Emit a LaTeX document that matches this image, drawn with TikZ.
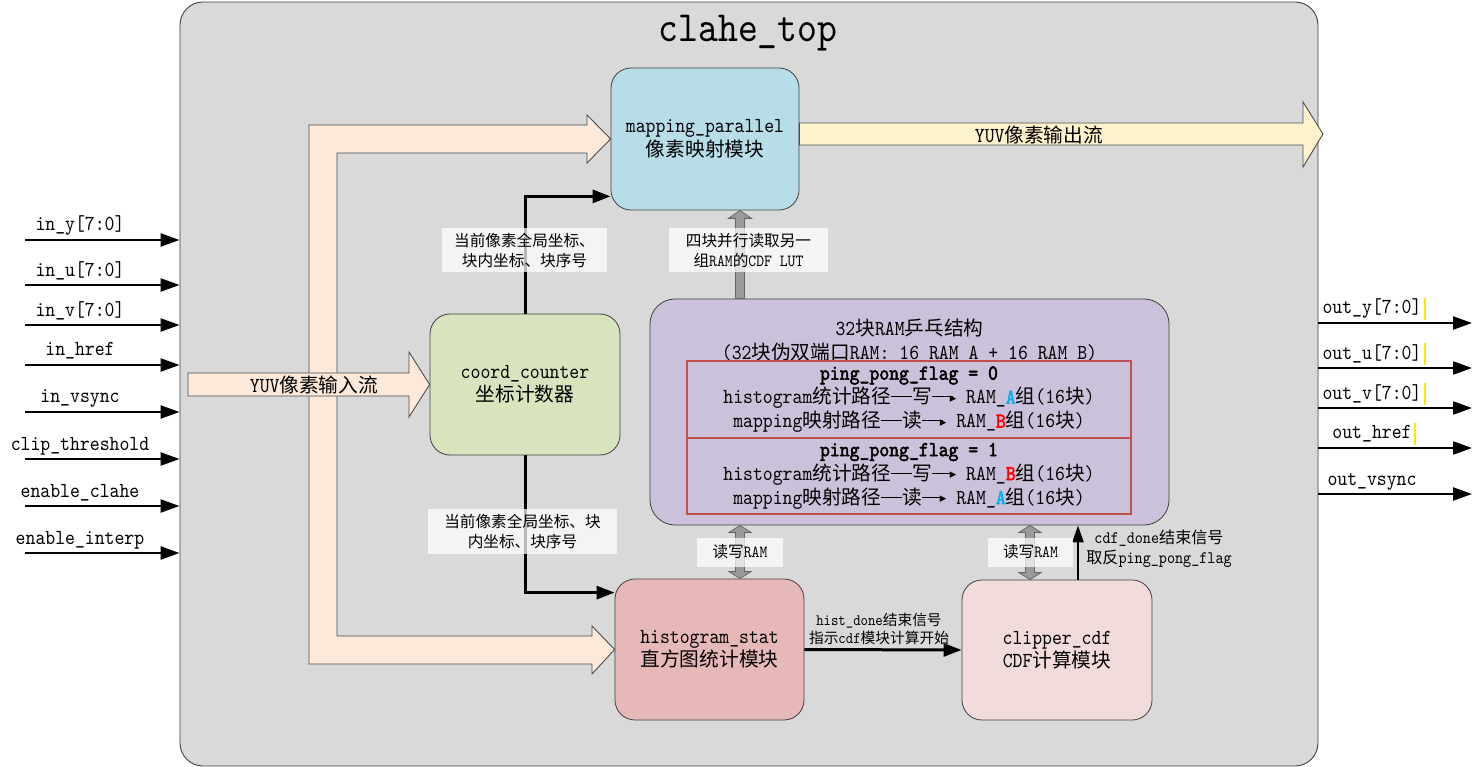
\documentclass[tikz,border=0pt]{standalone}
\usepackage{fontspec}
\setmonofont{lmmono10-regular.otf}[FakeStretch=0.88, BoldFont=lmmono10-regular.otf, BoldFeatures={FakeBold=2.2}]
\newfontfamily\cjkfont{Noto Sans CJK SC}[Scale=0.92]
\newfontfamily\dejavu{DejaVu Sans}
\usetikzlibrary{arrows.meta,calc}
\XeTeXinterchartokenstate=1
\newXeTeXintercharclass\cjkcls
\newcount\cjkc
\cjkc="4E00 \loop\XeTeXcharclass\cjkc=\cjkcls\advance\cjkc by 1 \ifnum\cjkc<"A000 \repeat
\cjkc="3000 \loop\XeTeXcharclass\cjkc=\cjkcls\advance\cjkc by 1 \ifnum\cjkc<"3040 \repeat
\cjkc="FF00 \loop\XeTeXcharclass\cjkc=\cjkcls\advance\cjkc by 1 \ifnum\cjkc<"FFF0 \repeat
\XeTeXinterchartoks 0 \cjkcls = {\begingroup\cjkfont}
\XeTeXinterchartoks 4095 \cjkcls = {\begingroup\cjkfont}
\XeTeXinterchartoks \cjkcls 0 = {\endgroup}
\XeTeXinterchartoks \cjkcls 4095 = {\endgroup}
\newcommand\dsh{\rule[6.5pt]{21pt}{0.8pt}}
\newcommand\tri{{\dejavu\fontsize{13}{13}\selectfont\kern-3pt\raisebox{1.3pt}{▸}}}
\definecolor{mapc}{HTML}{B7DDE8}
\definecolor{coordc}{HTML}{D7E4BD}
\definecolor{ramc}{HTML}{CCC1DA}
\definecolor{histc}{HTML}{E6B9B8}
\definecolor{clipc}{HTML}{F2DCDB}
\definecolor{bgc}{HTML}{D9D9D9}
\definecolor{peachc}{HTML}{FCE9DA}
\definecolor{yelc}{HTML}{FFF2CC}
\definecolor{redc}{HTML}{C0504D}
\definecolor{acol}{HTML}{00B0F0}
\definecolor{bcol}{HTML}{FF0000}
\definecolor{grayar}{HTML}{9A9A9A}
\definecolor{cursorc}{HTML}{FFE600}
\begin{document}
\begin{tikzpicture}[x=1pt,y=-1pt,
  txt/.style={font=\fontsize{21.4}{23.5}\selectfont\ttfamily, inner sep=0pt, align=center},
  mod/.style={txt, draw=black!75, line width=0.8pt, rounded corners=20pt},
  lblbox/.style={font=\fontsize{17}{20}\selectfont\ttfamily, fill=white, fill opacity=0.72, text opacity=1, align=center, inner sep=0pt},
  small/.style={font=\fontsize{16}{18.5}\selectfont\ttfamily, inner sep=0pt, align=center},
  sig/.style={line width=2.4pt, -{Triangle[length=19pt,width=13pt]}},
  conn/.style={line width=3pt, -{Triangle[length=18pt,width=13pt]}},
  conn2/.style={line width=2.6pt, -{Triangle[length=17pt,width=11pt]}},
  peach/.style={fill=peachc, draw=black!70, line width=0.9pt},
  yarrow/.style={fill=yelc, draw=black!70, line width=0.9pt},
  garrow/.style={fill=grayar, draw=black!60, line width=0.8pt},
  redbox/.style={txt, draw=redc, line width=1.3pt},
  cur/.style={draw=cursorc, line width=1.8pt}
]
\useasboundingbox (0,0) rectangle (1473,767);
% outer module
\node[draw=black!75, fill=bgc, line width=0.9pt, rounded corners=23pt, minimum width=1138pt, minimum height=764pt] (top) at (749,384) {};
\node[txt, font=\fontsize{43}{45}\selectfont\ttfamily] (ttl) at (748,33) {clahe\_top};

% inputs
\foreach \t/\yy/\ly [count=\i] in {in\_y[7:0]/240/226, in\_u[7:0]/285/271, in\_v[7:0]/325/311, in\_href/365/351, in\_vsync/412/398, clip\_threshold/459/446, enable\_clahe/506/493, enable\_interp/553/540}{
  \coordinate (is\i) at (25,\yy);
  \draw[sig] (is\i) -- (is\i -| top.west);
  \node[txt] (il\i) at (80,\ly) {\t};
}
% outputs
\foreach \t/\yy/\ly [count=\i] in {out\_y[7:0]/323/309, out\_u[7:0]/368/354, out\_v[7:0]/408/394, out\_href/448/434, out\_vsync/494/482}{
  \coordinate (os\i) at (1472,\yy);
  \draw[sig] (os\i -| top.east) -- (os\i);
  \node[txt] (ol\i) at (1372,\ly) {\t};
}
\foreach \i in {1,2,3,4}{
  \draw[cur] ([xshift=3pt,yshift=11pt]ol\i.east) -- ([xshift=3pt,yshift=-11pt]ol\i.east);
}

% modules
\node[mod, fill=mapc, minimum width=188pt, minimum height=142pt] (map) at (705,139) {mapping\_parallel\\像素映射模块};
\node[mod, fill=coordc, minimum width=190pt, minimum height=141pt] (coord) at (525,384.5) {coord\_counter\\坐标计数器};
\node[mod, fill=histc, minimum width=189pt, minimum height=141pt] (hist) at (709.5,649.5) {histogram\_stat\\直方图统计模块};
\node[mod, fill=clipc, minimum width=190pt, minimum height=140pt] (clip) at (1057,650) {clipper\_cdf\\CDF计算模块};
\node[mod, fill=ramc, rounded corners=25pt, minimum width=519pt, minimum height=226pt] (ram) at (909.5,412) {};
\node[txt] (ramt) at (909.5,340) {32块RAM乒乓结构\\(32块伪双端口RAM: 16 RAM A + 16 RAM B)};
\node[redbox, minimum width=444pt, minimum height=77pt, font=\fontsize{21.4}{24}\selectfont\ttfamily] (pp0) at (909,399.5) {{\bfseries ping\_pong\_flag = 0}\\histogram统计路径\dsh 写\dsh\tri{} RAM\_{\bfseries\color{acol}A}组(16块)\\mapping映射路径\dsh 读\dsh\tri{} RAM\_{\bfseries\color{bcol}B}组(16块)};
\node[redbox, minimum width=444pt, minimum height=76pt, font=\fontsize{21.4}{24}\selectfont\ttfamily] (pp1) at (909,476) {{\bfseries ping\_pong\_flag = 1}\\histogram统计路径\dsh 写\dsh\tri{} RAM\_{\bfseries\color{bcol}B}组(16块)\\mapping映射路径\dsh 读\dsh\tri{} RAM\_{\bfseries\color{acol}A}组(16块)};

% big stream arrows
\draw[peach] (309,125) -- (587,125) -- (587,115) -- (map.west) -- (587,163) -- (587,153) -- (337,153) -- (337,636) -- (592,636) -- (592,626) -- (hist.west) -- (592,674) -- (592,664) -- (309,664) -- cycle;
\draw[peach] (188,373) -- (409,373) -- (409,352) -- (coord.west) -- (409,417) -- (409,396) -- (188,396) -- cycle;
\node[txt] (yin) at (314,385) {YUV像素输入流};
\draw[yarrow] (map.east |- 0,123) -- (1303,123) -- (1303,102) -- (1323,134) -- (1303,167) -- (1303,145) -- (map.east |- 0,145) -- cycle;
\node[txt] (yout) at (1039,135) {YUV像素输出流};

% black connectors
\draw[conn] (coord.north) |- ([yshift=14pt]map.south west);
\draw[conn] (coord.south) |- ([yshift=-14pt]hist.north west);
\draw[conn] (hist.east) -- (clip.west);
\coordinate (cx) at (1078,0);
\draw[conn2] (clip.north -| cx) -- (ram.south -| cx);

% gray block arrows
\coordinate (g1) at (740,0);
\coordinate (g2) at (1030,0);
\draw[garrow] let \p1=(ram.north -| g1), \p2=(map.south -| g1) in
  (\x1-4.5pt,\y1) -- (\x1-4.5pt,\y2-8pt) -- (\x1-11.5pt,\y2-8pt) -- (\x2,\y2) -- (\x1+11.5pt,\y2-8pt) -- (\x1+4.5pt,\y2-8pt) -- (\x1+4.5pt,\y1) -- cycle;
\draw[garrow] let \p1=(ram.south -| g1), \p2=(hist.north -| g1) in
  (\x1,\y1) -- (\x1+11pt,\y1-7pt) -- (\x1+4.5pt,\y1-7pt) -- (\x1+4.5pt,\y2+7pt) -- (\x1+11pt,\y2+7pt) -- (\x1,\y2) -- (\x1-11pt,\y2+7pt) -- (\x1-4.5pt,\y2+7pt) -- (\x1-4.5pt,\y1-7pt) -- (\x1-11pt,\y1-7pt) -- cycle;
\draw[garrow] let \p1=(ram.south -| g2), \p2=(clip.north -| g2) in
  (\x1,\y1) -- (\x1+11pt,\y1-7pt) -- (\x1+4.5pt,\y1-7pt) -- (\x1+4.5pt,\y2+7pt) -- (\x1+11pt,\y2+7pt) -- (\x1,\y2) -- (\x1-11pt,\y2+7pt) -- (\x1-4.5pt,\y2+7pt) -- (\x1-4.5pt,\y1-7pt) -- (\x1-11pt,\y1-7pt) -- cycle;

% labels
\node[lblbox, minimum width=165pt, minimum height=44pt] (l1) at (524.5,250) {当前像素全局坐标、\\块内坐标、块序号};
\node[lblbox, minimum width=159pt, minimum height=44pt] (l2) at (748.5,250) {四块并行读取另一\\组RAM的CDF LUT};
\node[lblbox, minimum width=189pt, minimum height=45pt] (l3) at (522.5,531.5) {当前像素全局坐标、块\\内坐标、块序号};
\node[lblbox, minimum width=86pt, minimum height=29pt] (l4) at (740,552) {读写RAM};
\node[lblbox, minimum width=85pt, minimum height=29pt] (l5) at (1030.5,552) {读写RAM};
\node[small] (l6) at (879,629) {hist\_done结束信号\\指示cdf模块计算开始};
\node[small, font=\fontsize{17.5}{20}\selectfont\ttfamily] (l7) at (1159,548.5) {cdf\_done结束信号\\取反ping\_pong\_flag};
\end{tikzpicture}
\end{document}
